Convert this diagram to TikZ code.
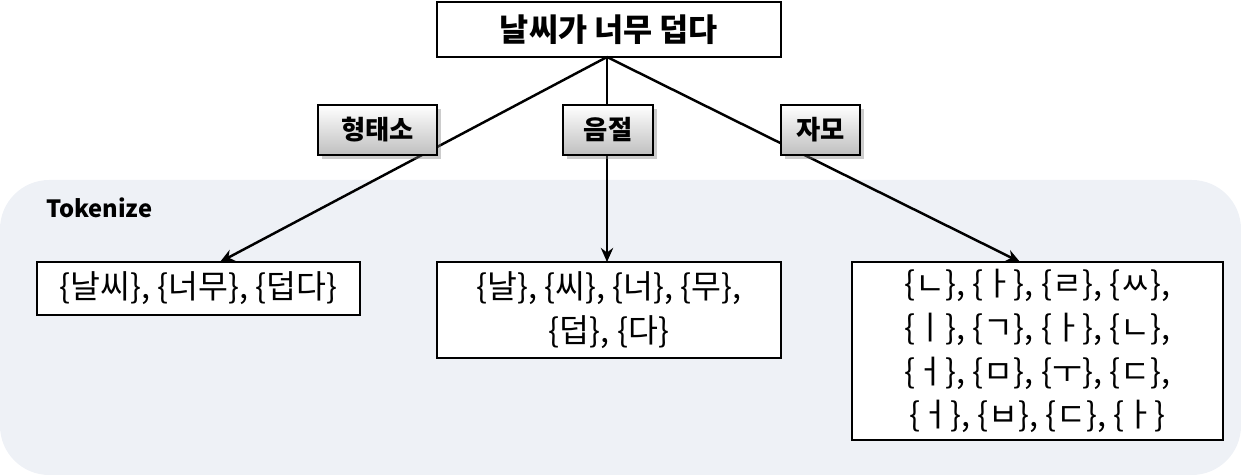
\documentclass[tikz,border=0pt]{standalone}
\usepackage{fontspec}
\setmainfont{Noto Sans CJK KR}
\usetikzlibrary{arrows.meta,shadows}
\begin{document}
\begin{tikzpicture}[x=0.02cm,y=-0.02cm,
  box/.style={draw,line width=1.4pt,fill=white,align=center,inner sep=0pt,font=\fontsize{18.5}{25}\selectfont},
  lab/.style={draw,line width=0.8pt,top color=white,bottom color=black!25,font=\bfseries\fontsize{15}{17}\selectfont,inner sep=0pt,drop shadow={shadow xshift=2pt,shadow yshift=-2pt,opacity=0.4}},
  conn/.style={line width=1.4pt,-{Stealth[length=8pt,width=7pt]}}]
\useasboundingbox (0,0) rectangle (1241,475);
\fill[rounded corners=28pt,fill={rgb,255:red,238;green,241;blue,246}] (0,180) rectangle (1241,475);
\node[anchor=west,font=\bfseries\fontsize{13.5}{15}\selectfont] (tok) at (40,208) {Tokenize};
\node[box,minimum width=344*0.02cm,minimum height=55*0.02cm,font=\bfseries\fontsize{18}{20}\selectfont] (top) at (609,29.5) {날씨가 너무 덥다};
\node[box,minimum width=323*0.02cm,minimum height=53*0.02cm] (b1) at (198.5,288.5) {\{날씨\}, \{너무\}, \{덥다\}};
\node[box,minimum width=344*0.02cm,minimum height=96*0.02cm] (b2) at (609,310) {\{날\}, \{씨\}, \{너\}, \{무\},\\ \{덥\}, \{다\}};
\node[box,minimum width=371*0.02cm,minimum height=178*0.02cm] (b3) at (1037.5,351) {\{ㄴ\}, \{ㅏ\}, \{ㄹ\}, \{ㅆ\},\\ \{ㅣ\}, \{ㄱ\}, \{ㅏ\}, \{ㄴ\},\\ \{ㅓ\}, \{ㅁ\}, \{ㅜ\}, \{ㄷ\},\\ \{ㅓ\}, \{ㅂ\}, \{ㄷ\}, \{ㅏ\}};
\coordinate (o) at (607,57);
\draw[conn] (o) -- (220,262);
\draw[conn] (o) -- (607,262);
\draw[conn] (o) -- (1020,262);
\node[lab,minimum width=119*0.02cm,minimum height=50*0.02cm] (l1) at (377.5,130) {형태소};
\node[lab,minimum width=90*0.02cm,minimum height=50*0.02cm] (l2) at (608,130) {음절};
\node[lab,minimum width=79*0.02cm,minimum height=50*0.02cm] (l3) at (820.5,130) {자모};
\end{tikzpicture}
\end{document}
